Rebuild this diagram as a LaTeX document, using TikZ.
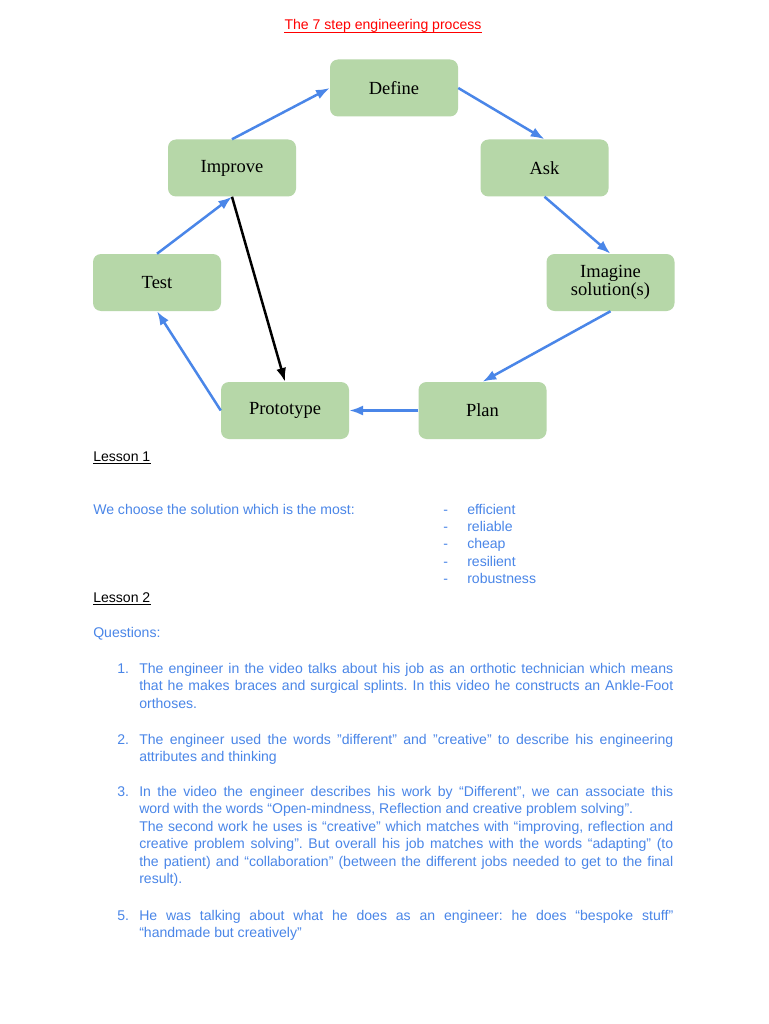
\documentclass[tikz,border=0pt]{standalone}
\usepackage{fontspec}
\setmainfont{Liberation Sans}
\newfontfamily\stagefont{Liberation Serif}
\usetikzlibrary{arrows.meta}

\definecolor{stagegreen}{HTML}{B6D7A8}
\definecolor{flowblue}{HTML}{4A86E8}
\hyphenpenalty=10000
\exhyphenpenalty=10000
\frenchspacing

\begin{document}
\begin{tikzpicture}[x = 0.8pt, y = -0.8pt,
        stage/.style = {fill = stagegreen, rounded corners = 6.4pt, minimum width = 102.4pt,
            minimum height = 45.6pt, align = center, inner sep = 0pt,
            font = \stagefont\fontsize{14.8}{14.7}\selectfont},
        flow/.style = {draw = flowblue, line width = 2pt, -{Latex[length = 11pt, width = 8pt]}},
        back/.style = {draw = black, line width = 2pt, -{Latex[length = 11pt, width = 8pt]}},
        uline/.style = {line width = 0.8pt},
        txt/.style = {inner sep = 0pt, anchor = base west, font = \fontsize{11.25}{14}\selectfont},
        answer/.style = {inner sep = 0pt, anchor = north west, text width = 427.2pt, align = justify,
            text = flowblue, font = \fontsize{11.25}{14}\selectfont}]
        \fill [white] (0,0) rectangle (768,1024);
        \useasboundingbox (0,0) rectangle (768,1024);

        \node [txt, anchor = base, text = red] (title) at (383,30) {The 7 step engineering process};
        \draw [uline, red] ([yshift = -2pt] title.base west) -- ([yshift = -2pt] title.base east);

        \node [stage] (define) at (394,88) {Define};
        \node [stage] (ask) at (544.5,168) {Ask};
        \node [stage] (imagine) at (610.5,282.5) {Imagine\\solution(s)};
        \node [stage] (plan) at (482.5,410.5) {Plan};
        \node [stage] (prototype) at (285,410.5) {Prototype};
        \node [stage] (test) at (157,282.5) {Test};
        \node [stage] (improve) at (232,168) {Improve};

        \draw [flow] (improve.north) -- (define.west);
        \draw [flow] (define.east) -- (ask.north);
        \draw [flow] (ask.south) -- (imagine.north);
        \draw [flow] (imagine.south) -- (plan.north);
        \draw [flow] (plan.west) -- (prototype.east);
        \draw [flow] (prototype.west) -- (test.south);
        \draw [flow] (test.north) -- (improve.south);
        \draw [back] (improve.south) -- (prototype.north);

        \node [txt] (lesson1) at (93,461) {Lesson 1};
        \draw [uline] ([yshift = -2pt] lesson1.base west) -- ([yshift = -2pt] lesson1.base east);
        \node [txt, text = flowblue] (choose) at (93,514) {We choose the solution which is the most:};
        \foreach \word [count = \i] in {efficient, reliable, cheap, resilient, robustness} {
            \node [txt, text = flowblue] (dash\i) at (443,{514 + 17.4*(\i - 1)}) {-};
            \node [txt, text = flowblue] (word\i) at (467,{514 + 17.4*(\i - 1)}) {\word};
        }

        \node [txt] (lesson2) at (93,602) {Lesson 2};
        \draw [uline] ([yshift = -2pt] lesson2.base west) -- ([yshift = -2pt] lesson2.base east);
        \node [txt, text = flowblue] (questions) at (93,637) {Questions:};

        \node [txt, text = flowblue] (num1) at (117,673) {1.};
        \node [answer] (answer1) at (139,660.75) {\strut The engineer in the video talks about his job as an orthotic technician which means\linebreak
            that he makes braces and surgical splints. In this video he constructs an Ankle-Foot\linebreak
            orthoses.};

        \node [txt, text = flowblue] (num2) at (117,744) {2.};
        \node [answer] (answer2) at (139,731.75) {\strut The engineer used the words "different" and "creative" to describe his engineering\linebreak
            attributes and thinking};

        \node [txt, text = flowblue] (num3) at (117,796) {3.};
        \node [answer] (answer3) at (139,783.75) {\strut In the video the engineer describes his work by “Different”, we can associate this\linebreak
            word with the words “Open-mindness, Reflection and creative problem solving”.\newline
            The second work he uses is “creative” which matches with “improving, reflection and\linebreak
            creative problem solving”. But overall his job matches with the words “adapting” (to\linebreak
            the patient) and “collaboration” (between the different jobs needed to get to the final\linebreak
            result).};

        \node [txt, text = flowblue] (num5) at (117,920) {5.};
        \node [answer] (answer5) at (139,907.75) {\strut He was talking about what he does as an engineer: he does “bespoke stuff”\linebreak
            “handmade but creatively”};
    \end{tikzpicture}
\end{document}
